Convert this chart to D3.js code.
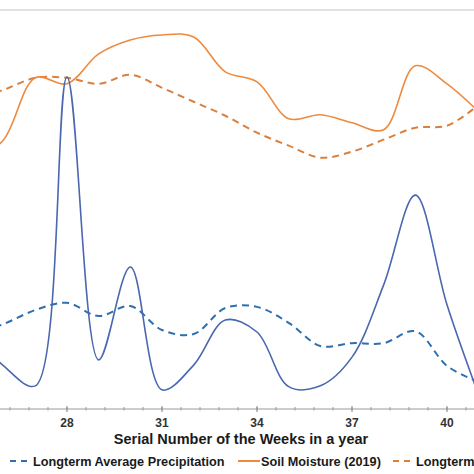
<!DOCTYPE html>
<html>
<head>
<meta charset="utf-8">
<script src="https://cdn.jsdelivr.net/npm/d3@7"></script>
<style>
  body { margin: 0; background: #fff; }
  svg { display: block; font-family: "Liberation Sans", Arial, sans-serif; }
</style>
</head>
<body>
<div id="chart"></div>
<script>
// weeks of the year shown on the x axis
const weeks = [25, 26, 27, 28, 29, 30, 31, 32, 33, 34, 35, 36, 37, 38, 39, 40, 41];
const tickWeeks = [28, 31, 34, 37, 40];

// weekly precipitation, mm
const precip2019 = [19.8, 10.8, 5.8, 83.2, 12.3, 35.6, 4.8, 11.0, 22.3, 19.3, 5.6, 5.8, 13.0, 31.1, 53.6, 26.1, 3.5];
const precipLongterm = [18.5, 21.3, 24.8, 26.6, 23.3, 25.8, 19.8, 18.8, 25.3, 25.6, 21.6, 15.8, 16.5, 16.5, 19.5, 10.8, 6.8];

// soil moisture, %
const soil2019 = [24.5, 27.0, 33.2, 32.6, 35.6, 37.0, 37.5, 37.3, 33.8, 32.8, 29.1, 29.5, 28.7, 28.0, 34.4, 32.6, 29.8];
const soilLongterm = [31.0, 32.0, 33.2, 33.2, 32.6, 33.5, 32.2, 30.8, 29.4, 27.7, 26.4, 25.2, 25.8, 27.0, 28.2, 28.4, 30.5];

const legendItems = [
  { label: "Longterm Average Precipitation", color: "#2f6fad", dash: "6,5" },
  { label: "Soil Moisture (2019)", color: "#ec8a3f", dash: null },
  { label: "Longterm Average Soil Moisture", color: "#d9803f", dash: "6,5" }
];

const width = 474, height = 474;
const plotTop = 10, plotBottom = 409;

const svg = d3.select("#chart").append("svg")
  .attr("width", width)
  .attr("height", height);

const x = d3.scaleLinear().domain([28, 40]).range([67, 447]);
const yPrecip = d3.scaleLinear().domain([0, 100]).range([plotBottom, plotTop]);
const ySoil = d3.scaleLinear().domain([0, 40]).range([plotBottom, plotTop]);

svg.append("clipPath").attr("id", "plot-clip")
  .append("rect")
  .attr("x", 0).attr("y", plotTop)
  .attr("width", width).attr("height", plotBottom - plotTop);

// top frame line
svg.append("line")
  .attr("x1", 0).attr("x2", width)
  .attr("y1", plotTop).attr("y2", plotTop)
  .attr("stroke", "#c4c4c4").attr("stroke-width", 1.2);

// x axis: major ticks every 3 weeks, minor every 0.6
const minorTicks = d3.range(26.2, 41, 0.6);
const axis = svg.append("g");
axis.append("line")
  .attr("x1", 0).attr("x2", width)
  .attr("y1", plotBottom).attr("y2", plotBottom)
  .attr("stroke", "#9a9a9a").attr("stroke-width", 1.2);
axis.selectAll("line.minor")
  .data(minorTicks)
  .enter().append("line")
  .attr("class", "minor")
  .attr("x1", d => x(d)).attr("x2", d => x(d))
  .attr("y1", plotBottom - 2).attr("y2", plotBottom + 1.5)
  .attr("stroke", "#9a9a9a");
axis.selectAll("line.major")
  .data(tickWeeks)
  .enter().append("line")
  .attr("class", "major")
  .attr("x1", d => x(d)).attr("x2", d => x(d))
  .attr("y1", plotBottom - 3).attr("y2", plotBottom + 3)
  .attr("stroke", "#8a8a8a");
axis.selectAll("text")
  .data(tickWeeks)
  .enter().append("text")
  .attr("x", d => x(d))
  .attr("y", plotBottom + 18)
  .attr("text-anchor", "middle")
  .attr("font-size", 12)
  .attr("font-weight", "bold")
  .attr("fill", "#333")
  .text(d => d);

svg.append("text")
  .attr("x", 241)
  .attr("y", 444)
  .attr("text-anchor", "middle")
  .attr("font-size", 14.5)
  .attr("font-weight", "bold")
  .attr("fill", "#1a1a1a")
  .text("Serial Number of the Weeks in a year");

// series lines
const curve = d3.curveCatmullRom.alpha(0.5);
const lineFor = (scale) => d3.line()
  .x((d, i) => x(weeks[i]))
  .y(d => scale(d))
  .curve(curve);

const plot = svg.append("g").attr("clip-path", "url(#plot-clip)");

plot.append("path")
  .datum(soilLongterm)
  .attr("d", lineFor(ySoil))
  .attr("fill", "none")
  .attr("stroke", "#d9803f")
  .attr("stroke-width", 2)
  .attr("stroke-dasharray", "7,5");

plot.append("path")
  .datum(soil2019)
  .attr("d", lineFor(ySoil))
  .attr("fill", "none")
  .attr("stroke", "#ec8a3f")
  .attr("stroke-width", 1.6);

plot.append("path")
  .datum(precipLongterm)
  .attr("d", lineFor(yPrecip))
  .attr("fill", "none")
  .attr("stroke", "#2f6fad")
  .attr("stroke-width", 2)
  .attr("stroke-dasharray", "7,5");

plot.append("path")
  .datum(precip2019)
  .attr("d", lineFor(yPrecip))
  .attr("fill", "none")
  .attr("stroke", "#4a68b0")
  .attr("stroke-width", 1.6);

// legend along the bottom (the last entry runs off the right edge, as in the source)
const legendX = [10, 238, 393];
const legend = svg.append("g");
legendItems.forEach((item, i) => {
  const g = legend.append("g").attr("transform", `translate(${legendX[i]},461)`);
  g.append("line")
    .attr("x1", 0).attr("x2", 22)
    .attr("y1", 0).attr("y2", 0)
    .attr("stroke", item.color)
    .attr("stroke-width", 2)
    .attr("stroke-dasharray", item.dash);
  g.append("text")
    .attr("x", 23)
    .attr("y", 4.5)
    .attr("font-size", 12.7)
    .attr("font-weight", "bold")
    .attr("fill", "#1a1a1a")
    .text(item.label);
});
</script>
</body>
</html>
